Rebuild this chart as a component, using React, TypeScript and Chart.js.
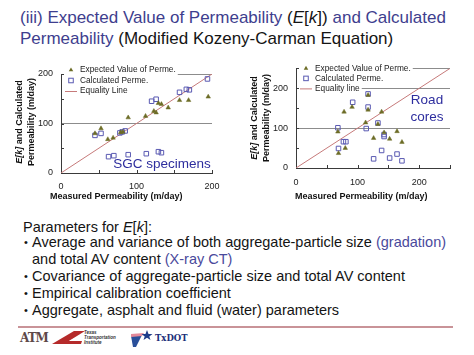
import React, { useEffect, useRef } from "react";
import { Chart, registerables } from "chart.js";

Chart.register(...registerables);

const FONT = '"Liberation Sans", Arial, Helvetica, sans-serif';

// ---------- SGC specimens (left chart) ----------
const sgcExpectedX = [45, 53, 62, 69, 79, 82, 89, 112, 123, 126, 129, 133, 142, 157, 169, 195];
const sgcExpectedY = [80, 90, 68, 71, 82, 83, 112, 115, 125, 122, 141, 139, 132, 147, 147, 154];
const sgcCalcX = [45, 53, 63, 70, 78, 81, 85, 89, 113, 120, 126, 129, 133, 157, 166, 170, 194];
const sgcCalcY = [76, 80, 33, 35, 81, 83, 85, 37, 39, 145, 149, 43, 41, 163, 169, 168, 190];
const sgcEquality = [0, 200];
const sgcXTicks = [0, 100, 200];
const sgcYTicks = [0, 100, 200];
const sgcYGrid = [100, 200];
const sgcLegend = ["Expected Value of Perme.", "Calculated Perme.", "Equality Line"];
const sgcNote = ["SGC specimens"];

// ---------- Road cores (right chart) ----------
const rcExpectedX = [68, 69, 78, 80, 91, 113, 117, 117, 126, 133, 139, 143, 152, 164, 172];
const rcExpectedY = [91, 37, 141, 50, 153, 114, 183, 146, 75, 110, 141, 89, 73, 92, 65];
const rcCalcX = [68, 69, 77, 81, 92, 114, 117, 117, 126, 133, 139, 143, 143, 152, 164, 172];
const rcCalcY = [101, 49, 66, 66, 165, 99, 186, 153, 23, 113, 44, 84, 79, 25, 35, 18];
const rcEquality = [0, 250];
const rcXTicks = [0, 100, 200];
const rcYTicks = [0, 100, 200];
const rcYGrid = [100, 200, 250];
const rcLegend = ["Expected Value of Perme.", "Calculated Perme.", "Equality line"];
const rcNote = ["Road", "cores"];

const xTitle = "Measured Permeability (m/day)";
const yTitleLine1 = [
  { text: "E[k]", italic: true },
  { text: " and Calculated", italic: false },
];
const yTitleLine2 = "Permeability (m/day)";

const TRI_COLOR = "#6c6c26";
const SQ_COLOR = "#5a5ab2";
const EQ_COLOR = "#c67a7a";
const GRID_COLOR = "#8c8c8c";
const AXIS_COLOR = "#3a3a3a";
const NOTE_COLOR = "#2d2d9e";

type Spec = {
  w: number;
  h: number;
  area: { l: number; t: number; r: number; b: number };
  xMax: number;
  yMax: number;
  xTicks: number[];
  yTicks: number[];
  yGrid: number[];
  expX: number[];
  expY: number[];
  calX: number[];
  calY: number[];
  eq: number[];
  legend: string[];
  legendRows: number[];
  note: string[];
  noteX: number;
  noteY: number[];
  xTitleX: number;
  xTitleY: number;
  yTitleX: [number, number];
  yTitleY: number;
  xPad: number;
  yPad: number;
};

function drawTriangle(ctx: CanvasRenderingContext2D, x: number, y: number, r: number) {
  let rad = 0;
  ctx.beginPath();
  ctx.moveTo(x + Math.sin(rad) * r, y - Math.cos(rad) * r);
  rad += (2 * Math.PI) / 3;
  ctx.lineTo(x + Math.sin(rad) * r, y - Math.cos(rad) * r);
  rad += (2 * Math.PI) / 3;
  ctx.lineTo(x + Math.sin(rad) * r, y - Math.cos(rad) * r);
  ctx.closePath();
  ctx.fill();
}

function makeDecor(spec: Spec) {
  return {
    id: "decor",
    afterDraw(chart: any) {
      const ctx: CanvasRenderingContext2D = chart.ctx;
      const a = chart.chartArea;
      const xs = chart.scales.x;
      const ys = chart.scales.y;
      ctx.save();

      // legend (each item with its own white background)
      ctx.font = `8.3px ${FONT}`;
      ctx.textBaseline = "middle";
      ctx.textAlign = "left";
      const mx = a.left + 10;
      const tx = a.left + 19;
      spec.legend.forEach((label, i) => {
        const y = a.top + spec.legendRows[i];
        const tw = ctx.measureText(label).width;
        ctx.fillStyle = "#ffffff";
        ctx.fillRect(a.left + 2, y - 5, tx + tw + 2 - (a.left + 2), 10);
        if (i === 0) {
          ctx.fillStyle = TRI_COLOR;
          drawTriangle(ctx, mx, y, 2.6);
        } else if (i === 1) {
          ctx.strokeStyle = SQ_COLOR;
          ctx.lineWidth = 1;
          const s = 3.2 / Math.SQRT2;
          ctx.strokeRect(mx - s, y - s, 2 * s, 2 * s);
        } else {
          ctx.strokeStyle = EQ_COLOR;
          ctx.lineWidth = 1;
          ctx.beginPath();
          ctx.moveTo(a.left + 4, y + 0.5);
          ctx.lineTo(a.left + 16, y + 0.5);
          ctx.stroke();
        }
        ctx.fillStyle = "#222222";
        ctx.fillText(label, tx, y);
      });

      // inner minor/major tick marks
      ctx.strokeStyle = AXIS_COLOR;
      ctx.lineWidth = 1;
      ctx.beginPath();
      for (let v = 50; v <= spec.yMax; v += 50) {
        const py = Math.round(ys.getPixelForValue(v)) + 0.5;
        ctx.moveTo(a.left, py);
        ctx.lineTo(a.left + 3, py);
      }
      for (let v = 50; v <= spec.xMax; v += 50) {
        const px = Math.round(xs.getPixelForValue(v)) + 0.5;
        ctx.moveTo(px, a.bottom);
        ctx.lineTo(px, a.bottom - 3);
      }
      ctx.stroke();

      // annotation
      ctx.font = `13.5px ${FONT}`;
      ctx.fillStyle = NOTE_COLOR;
      ctx.textAlign = "center";
      spec.note.forEach((t, i) => ctx.fillText(t, spec.noteX, spec.noteY[i]));

      // x title
      ctx.font = `bold 9px ${FONT}`;
      ctx.fillStyle = "#111111";
      ctx.textAlign = "left";
      ctx.fillText(xTitle, spec.xTitleX, spec.xTitleY);

      // y title (rotated, two lines)
      const drawLine = (cx: number, parts: { text: string; italic: boolean }[]) => {
        ctx.save();
        ctx.translate(cx, spec.yTitleY);
        ctx.rotate(-Math.PI / 2);
        ctx.textAlign = "left";
        ctx.textBaseline = "middle";
        let total = 0;
        parts.forEach((p) => {
          ctx.font = `${p.italic ? "italic " : ""}bold 9px ${FONT}`;
          total += ctx.measureText(p.text).width;
        });
        let x = -total / 2;
        parts.forEach((p) => {
          ctx.font = `${p.italic ? "italic " : ""}bold 9px ${FONT}`;
          ctx.fillText(p.text, x, 0);
          x += ctx.measureText(p.text).width;
        });
        ctx.restore();
      };
      drawLine(spec.yTitleX[0], yTitleLine1);
      drawLine(spec.yTitleX[1], [{ text: yTitleLine2, italic: false }]);

      ctx.restore();
    },
  };
}

function buildConfig(spec: Spec): any {
  const yAll = Array.from(new Set([...spec.yTicks, ...spec.yGrid])).sort((p, q) => p - q);
  return {
    type: "scatter",
    data: {
      datasets: [
        {
          label: spec.legend[0],
          data: spec.expX.map((x, i) => ({ x, y: spec.expY[i] })),
          pointStyle: "triangle",
          pointRadius: 2.6,
          backgroundColor: TRI_COLOR,
          borderColor: TRI_COLOR,
          borderWidth: 0.5,
        },
        {
          label: spec.legend[1],
          data: spec.calX.map((x, i) => ({ x, y: spec.calY[i] })),
          pointStyle: "rect",
          pointRadius: 3.2,
          backgroundColor: "rgba(255,255,255,0)",
          borderColor: SQ_COLOR,
          borderWidth: 1,
        },
        {
          label: spec.legend[2],
          data: spec.eq.map((v) => ({ x: v, y: v })),
          showLine: true,
          pointRadius: 0,
          borderColor: EQ_COLOR,
          borderWidth: 1,
          fill: false,
        },
      ],
    },
    options: {
      responsive: false,
      animation: false,
      devicePixelRatio: 1,
      events: [],
      layout: { padding: { left: 0, top: spec.area.t, right: spec.w - spec.area.r, bottom: 0 } },
      plugins: { legend: { display: false }, tooltip: { enabled: false }, title: { display: false } },
      scales: {
        x: {
          type: "linear",
          min: 0,
          max: spec.xMax,
          afterFit: (s: any) => {
            s.height = spec.h - spec.area.b;
          },
          afterBuildTicks: (s: any) => {
            s.ticks = spec.xTicks.map((v) => ({ value: v }));
          },
          ticks: {
            font: { family: FONT, size: 9 },
            color: "#222222",
            padding: spec.xPad,
            autoSkip: false,
            maxRotation: 0,
          },
          grid: { color: "rgba(0,0,0,0)", drawTicks: false },
          border: { color: AXIS_COLOR, width: 1 },
        },
        y: {
          type: "linear",
          min: 0,
          max: spec.yMax,
          afterFit: (s: any) => {
            s.width = spec.area.l;
          },
          afterBuildTicks: (s: any) => {
            s.ticks = yAll.map((v) => ({ value: v }));
          },
          ticks: {
            font: { family: FONT, size: 9 },
            color: "#222222",
            padding: spec.yPad,
            autoSkip: false,
            callback: (v: number) => (spec.yTicks.includes(v) ? String(v) : ""),
          },
          grid: {
            drawTicks: false,
            color: (c: any) => (c.tick && spec.yGrid.includes(c.tick.value) ? GRID_COLOR : "rgba(0,0,0,0)"),
          },
          border: { color: AXIS_COLOR, width: 1 },
        },
      },
    },
    plugins: [makeDecor(spec)],
  };
}

const leftSpec: Spec = {
  w: 240,
  h: 150,
  area: { l: 61, t: 19, r: 212, b: 118 },
  xMax: 200,
  yMax: 200,
  xTicks: sgcXTicks,
  yTicks: sgcYTicks,
  yGrid: sgcYGrid,
  expX: sgcExpectedX,
  expY: sgcExpectedY,
  calX: sgcCalcX,
  calY: sgcCalcY,
  eq: sgcEquality,
  legend: sgcLegend,
  legendRows: [-4, 6.5, 17],
  note: sgcNote,
  noteX: 162,
  noteY: [109],
  xTitleX: 50,
  xTitleY: 142,
  yTitleX: [20, 32],
  yTitleY: 67,
  xPad: 8,
  yPad: 8,
};

const rightSpec: Spec = {
  w: 237,
  h: 150,
  area: { l: 59, t: 11, r: 213, b: 113 },
  xMax: 250,
  yMax: 250,
  xTicks: rcXTicks,
  yTicks: rcYTicks,
  yGrid: rcYGrid,
  expX: rcExpectedX,
  expY: rcExpectedY,
  calX: rcCalcX,
  calY: rcCalcY,
  eq: rcEquality,
  legend: rcLegend,
  legendRows: [0, 10, 20],
  note: rcNote,
  noteX: 190,
  noteY: [45, 62],
  xTitleX: 58,
  xTitleY: 142,
  yTitleX: [18, 30],
  yTitleY: 63,
  xPad: 9.5,
  yPad: 8,
};

function PermChart({ spec, left, top }: { spec: Spec; left: number; top: number }) {
  const ref = useRef<HTMLCanvasElement>(null);
  useEffect(() => {
    if (!ref.current) return;
    const chart = new Chart(ref.current, buildConfig(spec));
    return () => chart.destroy();
  }, [spec]);
  return (
    <div style={{ position: "absolute", left, top, width: spec.w, height: spec.h }}>
      <canvas ref={ref} width={spec.w} height={spec.h} style={{ width: spec.w, height: spec.h, display: "block" }} />
    </div>
  );
}

const BLUE = "#3e3e8e";
const BLACK = "#141414";

function BodyLine({ top, left, children }: { top: number; left: number; children: React.ReactNode }) {
  return (
    <div
      style={{
        position: "absolute",
        top,
        left,
        fontSize: 14.5,
        lineHeight: "17px",
        whiteSpace: "nowrap",
        color: BLACK,
      }}
    >
      {children}
    </div>
  );
}

function Bullet({ top }: { top: number }) {
  return (
    <div style={{ position: "absolute", top, left: 24, fontSize: 11, lineHeight: "17px", color: BLACK }}>•</div>
  );
}

export default function App() {
  return (
    <div
      style={{
        position: "absolute",
        left: 0,
        top: 0,
        width: 474,
        height: 355,
        background: "#ffffff",
        overflow: "hidden",
        fontFamily: FONT,
      }}
    >
      <div
        style={{
          position: "absolute",
          left: 20,
          top: 7,
          fontSize: 17,
          lineHeight: "21px",
          color: BLUE,
          whiteSpace: "nowrap",
        }}
      >
        <div>
          (iii) Expected Value of Permeability{" "}
          <span style={{ color: BLACK }}>
            (<i>E</i>[<i>k</i>])
          </span>{" "}
          and Calculated
        </div>
        <div>
          Permeability <span style={{ color: BLACK }}>(Modified Kozeny-Carman Equation)</span>
        </div>
      </div>

      <PermChart spec={leftSpec} left={0} top={55} />
      <PermChart spec={rightSpec} left={237} top={55} />

      <BodyLine top={219} left={23}>
        Parameters for <i>E</i>[<i>k</i>]:
      </BodyLine>
      <Bullet top={234} />
      <BodyLine top={234} left={32}>
        Average and variance of both aggregate-particle size <span style={{ color: "#4a4a9c" }}>(gradation)</span>
      </BodyLine>
      <BodyLine top={251} left={32}>
        and total AV content <span style={{ color: "#4a4a9c" }}>(X-ray CT)</span>
      </BodyLine>
      <Bullet top={268} />
      <BodyLine top={268} left={32}>
        Covariance of aggregate-particle size and total AV content
      </BodyLine>
      <Bullet top={285} />
      <BodyLine top={285} left={32}>
        Empirical calibration coefficient
      </BodyLine>
      <Bullet top={302} />
      <BodyLine top={302} left={32}>
        Aggregate, asphalt and fluid (water) parameters
      </BodyLine>

      <div style={{ position: "absolute", left: 18, top: 326, width: 435, height: 2, background: "#c99398" }} />

      {/* footer logos */}
      <div
        style={{
          position: "absolute",
          left: 20,
          top: 331,
          fontFamily: '"DejaVu Serif", "Liberation Serif", serif',
          fontWeight: "bold",
          fontSize: 12,
          lineHeight: "14px",
          letterSpacing: -1,
          color: "#5e4848",
        }}
      >
        ATM
      </div>
      <svg style={{ position: "absolute", left: 52, top: 329 }} width={34} height={18}>
        <polygon points="0,15 22,2 33,2 12,15" fill="#b52a2a" />
        <polygon points="12,15 30,5 33,5 16,15" fill="#ffffff" />
        <polygon points="5,15 9,12 30,12 29,15" fill="#b52a2a" />
      </svg>
      <div
        style={{
          position: "absolute",
          left: 84,
          top: 330,
          fontSize: 4.5,
          lineHeight: "5px",
          fontStyle: "italic",
          fontWeight: "bold",
          color: "#333",
        }}
      >
        Texas
        <br />
        Transportation
        <br />
        Institute
      </div>
      <svg style={{ position: "absolute", left: 130, top: 330 }} width={24} height={18}>
        <polygon points="1,6 12,5 6,17 3,17" fill="#2a4f9a" />
        <polygon points="1,4 14,3 12,6 1,7" fill="#e58a9a" />
        <polygon points="17,0 18.5,4 22.5,4 19.3,6.4 20.5,10 17,7.8 13.5,10 14.7,6.4 11.5,4 15.5,4" fill="#1d3c8a" />
      </svg>
      <div
        style={{
          position: "absolute",
          left: 155,
          top: 333,
          fontFamily: '"DejaVu Serif", "Liberation Serif", serif',
          fontWeight: "bold",
          fontSize: 8.5,
          lineHeight: "10px",
          color: "#1d2f7a",
        }}
      >
        TxDOT
      </div>
    </div>
  );
}
